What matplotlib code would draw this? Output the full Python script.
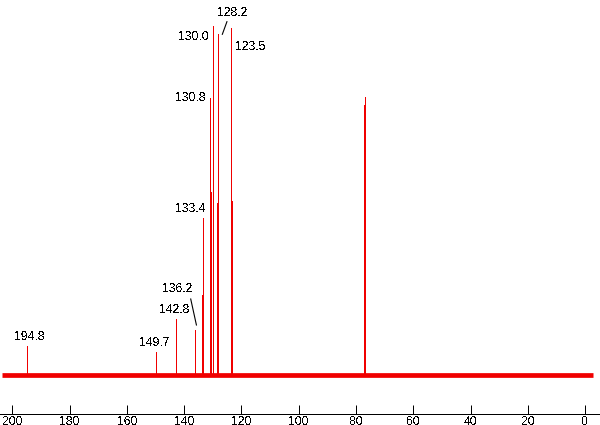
import matplotlib
matplotlib.use("Agg")
import matplotlib.pyplot as plt
import matplotlib.transforms as mtransforms

plt.rcParams["text.antialiased"] = False

# ---- data (13C NMR peaks, ppm and relative intensity) ----
peak_ppm = [194.8, 149.7, 142.8, 136.2, 133.4, 130.8, 130.0, 128.2, 123.5]
peak_int = [28.2, 23.0, 55.5, 44.5, 156.5, 276.5, 348.8, 340.8, 346.5]
peak_labels = ["194.8", "149.7", "142.8", "136.2", "133.4", "130.8", "130.0", "128.2", "123.5"]
# neighbouring points of the broadened lines
shoulder_ppm = [133.75, 130.45, 128.55, 123.15]
shoulder_int = [79.5, 182.8, 171.5, 173.8]
# solvent (CDCl3) triplet
solvent_ppm = [77.3, 77.0, 76.7]
solvent_int = [269.5, 277.8, 269.5]
tick_values = [200, 180, 160, 140, 120, 100, 80, 60, 40, 20, 0]
baseline_range = [203.5, -2.6]

RED = "#f00000"
FONT = "Liberation Sans"
FS = 8.7
PX = 0.72  # one pixel in points

fig = plt.figure(figsize=(6, 4.25), dpi=100)
ax = fig.add_axes([0, 10.7 / 425, 1, 414.3 / 425])
ax.set_xlim(204.29, -5.2)
ax.set_ylim(-39.8, 374.5)

# baseline noise band
ax.hlines(0, baseline_range[0], baseline_range[1], color=RED, lw=3.4)

# sticks
for xs, hs in [(peak_ppm, peak_int), (shoulder_ppm, shoulder_int), (solvent_ppm, solvent_int)]:
    ax.vlines(xs, 0, hs, color=RED, lw=PX, antialiased=False)

# labels (offsets in pixels from the peak top)
label_offsets = {
    "194.8": (2, 9), "149.7": (-2, 8.5), "142.8": (-2, 9), "136.2": (-17.6, 40.5),
    "133.4": (-13, 9), "130.8": (-20, 0), "130.0": (-19, -11), "128.2": (14, 20.7),
    "123.5": (19, -19.5),
}
for p, h, lab in zip(peak_ppm, peak_int, peak_labels):
    dx, dy = label_offsets[lab]
    ax.annotate(lab, xy=(p, h), xytext=(dx, dy), textcoords="offset pixels",
                ha="center", va="center", fontsize=FS, family=FONT, color="black")

# leader lines
leaders = {"136.2": ((-4.3, 31), (1.4, 5)), "128.2": ((9, 12), (4.4, -0.6))}
for p, h, lab in zip(peak_ppm, peak_int, peak_labels):
    if lab in leaders:
        (x0, y0), (x1, y1) = leaders[lab]
        t0 = mtransforms.offset_copy(ax.transData, fig=fig, x=x0, y=y0, units="dots")
        t1 = mtransforms.offset_copy(ax.transData, fig=fig, x=x1, y=y1, units="dots")
        a = t0.transform((p, h))
        b = t1.transform((p, h))
        fig.add_artist(plt.Line2D([a[0] / fig.dpi / 6, b[0] / fig.dpi / 6],
                                  [a[1] / fig.dpi / 4.25, b[1] / fig.dpi / 4.25],
                                  transform=fig.transFigure, color="black", lw=0.8))

# axis styling
for s in ["left", "right", "top"]:
    ax.spines[s].set_visible(False)
ax.spines["bottom"].set_linewidth(PX)
ax.spines["bottom"].set_antialiased(False)
ax.set_yticks([])
ax.set_xticks(tick_values)
ax.set_xticklabels([str(v) for v in tick_values], fontsize=FS, family=FONT)
ax.tick_params(axis="x", direction="in", length=6.5, width=PX, pad=1.5)
ax.patch.set_alpha(0)

fig.savefig("out.png", dpi=100)
